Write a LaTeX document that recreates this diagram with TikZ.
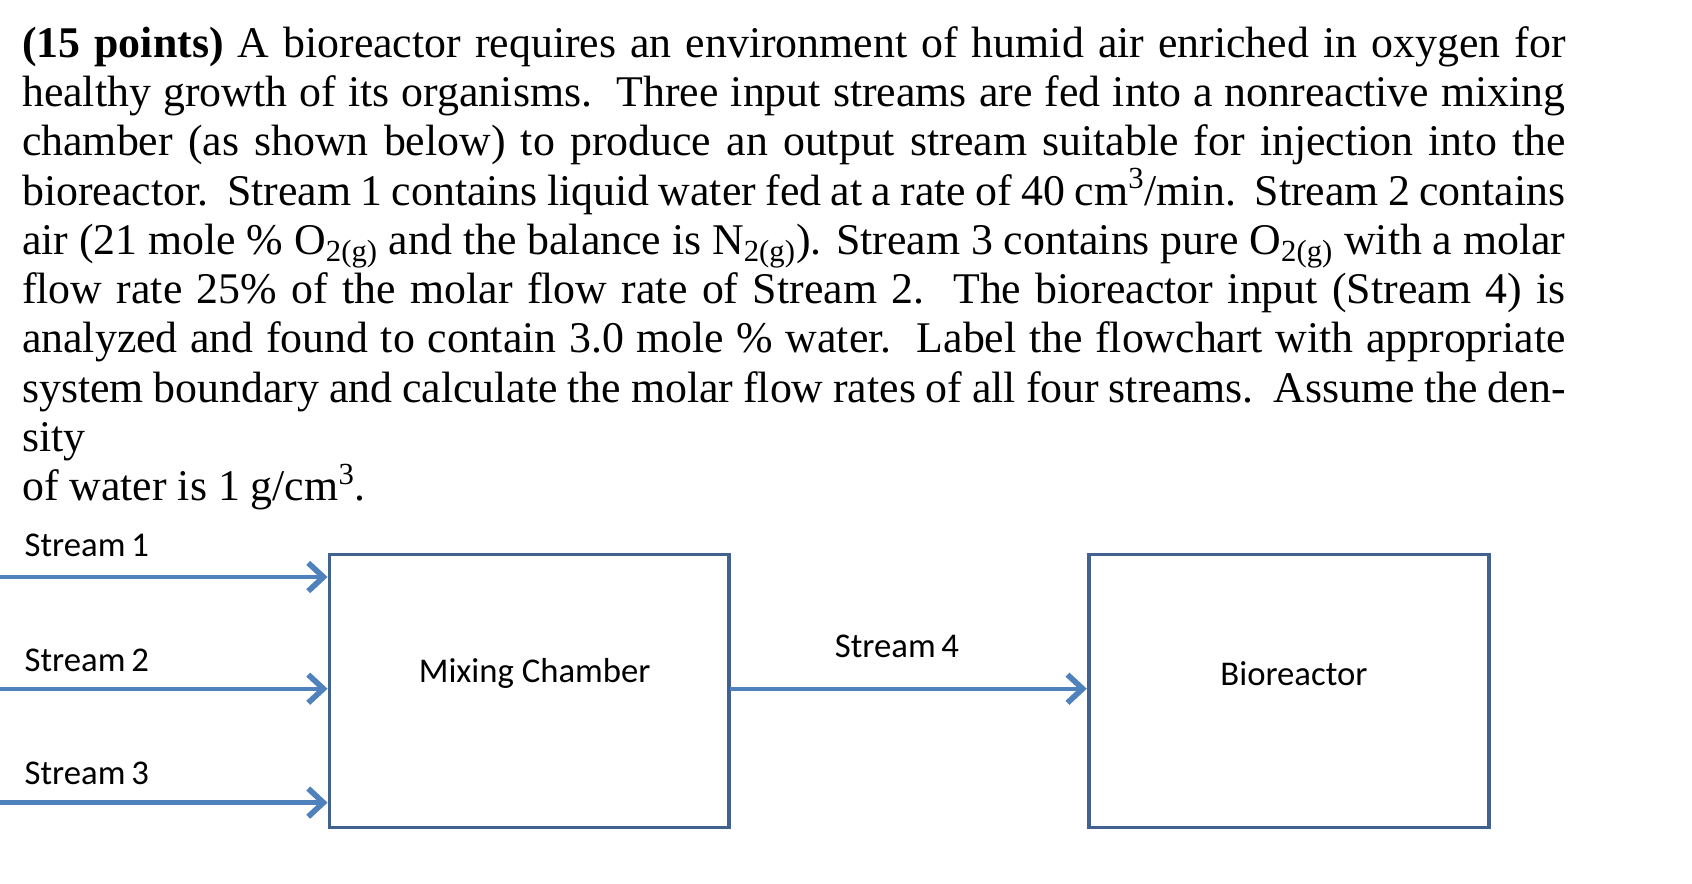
\documentclass[tikz,border=0pt]{standalone}
\usepackage{fontspec}
\setmainfont{Liberation Serif}
\newfontfamily\calib{Carlito}
\usetikzlibrary{arrows.meta}
\definecolor{boxc}{HTML}{41618F}
\definecolor{arrc}{HTML}{4F81BD}
\tikzset{
 procbox/.style={draw=boxc,line width=1.6pt},
 flow/.style={draw=arrc,line width=2pt,-{Straight Barb[length=7pt,width=13pt,line width=2.6pt]}},
 lbl/.style={font=\calib\fontsize{16}{18}\selectfont,inner sep=0pt}
}
\begin{document}
\begin{tikzpicture}[x=0.5pt,y=-0.5pt]
\useasboundingbox (0,0) rectangle (1560,815);
\node[anchor=north west,inner sep=0pt,text width=711.5pt,align=justify,font=\fontsize{20.2}{22.7}\selectfont] (q) at (20,24)
{\textbf{(15 points)} A bioreactor requires an environment of humid air enriched in oxygen for\linebreak healthy growth of its organisms.\ \ Three input streams are fed into a nonreactive mixing\linebreak chamber (as shown below) to produce an output stream suitable for injection into the\linebreak bioreactor.\ \ Stream 1 contains liquid water fed at a rate of 40 cm\textsuperscript{3}/min.\ \ Stream 2 contains\linebreak air (21 mole \% O\textsubscript{2(g)} and the balance is N\textsubscript{2(g)}). Stream 3 contains pure O\textsubscript{2(g)} with a molar\linebreak flow rate 25\% of the molar flow rate of Stream 2.\ \ The bioreactor input (Stream 4) is\linebreak analyzed and found to contain 3.0 mole \% water.\ \ Label the flowchart with appropriate\linebreak system boundary and calculate the molar flow rates of all four streams.\ \ Assume the density\linebreak of water is 1 g/cm\textsuperscript{3}.\par};
\draw[procbox] (304,511) rectangle (672,763);
\draw[procbox] (1004,511) rectangle (1373,763);
\node[lbl] (mc) at (493,621) {Mixing Chamber};
\node[lbl] (bio) at (1193,621) {Bioreactor};
\coordinate (m1) at (302,532); \coordinate (m2) at (302,635); \coordinate (m3) at (302,740);
\coordinate (s1) at (0,532); \coordinate (s2) at (0,635); \coordinate (s3) at (0,740);
\coordinate (mo) at (673,635); \coordinate (bi) at (1002,635);
\draw[flow] (s1) -- (m1);
\draw[flow] (s2) -- (m2);
\draw[flow] (s3) -- (m3);
\draw[flow] (mo) -- (bi);
\node[lbl] (l1) at (80,503) {Stream\,1};
\node[lbl] (l2) at (80,609) {Stream\,2};
\node[lbl] (l3) at (80,713) {Stream\,3};
\node[lbl] (l4) at (827,596) {Stream\,4};
\end{tikzpicture}
\end{document}
